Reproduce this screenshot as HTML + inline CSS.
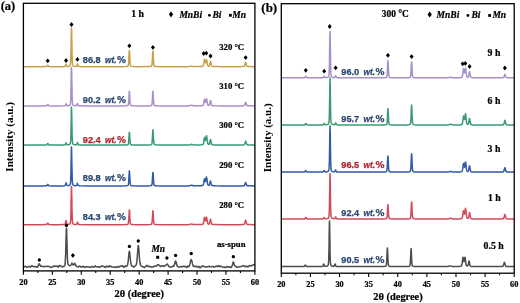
<!DOCTYPE html>
<html><head><meta charset="utf-8"><style>
html,body{margin:0;padding:0;background:#fff;width:520px;height:303px;overflow:hidden}
svg{display:block;filter:blur(0.3px)}
</style></head><body>
<svg width="520" height="303" viewBox="0 0 520 303">
<rect width="520" height="303" fill="#fff"/>
<path d="M23.4,66.7 42.1,66.7 45.9,66.6 46.4,66.6 46.8,66.4 47.1,66.0 47.5,65.3 47.7,65.2 47.8,65.2 48.0,65.4 48.4,66.1 48.6,66.3 48.9,66.5 49.3,66.6 51.1,66.7 56.4,66.7 61.7,66.7 64.0,66.6 64.8,66.5 65.0,66.4 65.1,66.3 65.3,66.1 65.4,65.8 65.9,64.6 66.0,64.5 66.1,64.4 66.2,64.5 66.3,64.6 66.6,65.6 66.8,65.9 67.0,66.3 67.2,66.4 67.8,66.4 68.7,66.4 69.3,66.2 69.7,65.9 69.9,65.7 70.2,65.4 70.3,65.0 70.4,64.6 70.5,64.2 70.5,63.6 70.6,62.7 70.7,61.5 70.8,59.9 70.8,57.7 70.9,54.9 71.0,51.6 71.1,47.7 71.1,43.4 71.2,38.9 71.3,34.6 71.4,31.0 71.4,29.4 71.4,28.7 71.5,28.0 71.5,28.0 71.6,29.1 71.7,31.9 71.7,35.3 71.8,40.0 71.9,44.1 72.0,48.7 72.0,52.2 72.1,55.7 72.2,58.1 72.3,60.3 72.3,61.7 72.4,62.9 72.5,63.7 72.6,64.3 72.6,64.7 72.7,65.0 72.9,65.4 73.1,65.7 73.4,66.0 73.8,66.2 74.3,66.3 75.0,66.4 75.6,66.5 76.0,66.4 76.3,66.3 76.5,66.1 76.7,65.8 76.8,65.4 77.2,64.1 77.3,63.9 77.4,63.8 77.5,63.9 77.6,64.1 77.7,64.3 78.0,65.6 78.2,65.9 78.3,66.2 78.6,66.4 78.8,66.5 79.7,66.6 82.2,66.7 88.4,66.7 121.4,66.7 125.5,66.6 126.5,66.5 127.3,66.4 127.8,66.2 127.9,66.1 128.1,65.9 128.2,65.6 128.3,65.1 128.4,64.8 128.5,64.1 128.7,62.5 128.8,60.1 128.9,57.0 129.1,53.8 129.2,51.2 129.4,50.5 129.4,50.5 129.6,52.1 129.7,55.1 129.8,58.4 130.0,61.2 130.2,63.2 130.3,64.6 130.4,65.1 130.4,65.4 130.6,65.8 130.8,66.0 130.9,66.2 131.2,66.3 132.1,66.5 133.6,66.6 136.2,66.7 147.8,66.6 149.3,66.6 150.3,66.5 150.9,66.4 151.4,66.2 151.5,66.0 151.7,65.8 151.8,65.4 152.0,64.7 152.1,63.4 152.3,61.4 152.4,59.5 152.4,58.7 152.6,55.6 152.7,52.6 152.9,51.1 152.9,51.0 153.0,51.6 153.2,54.1 153.4,58.5 153.5,60.2 153.6,62.6 153.8,64.1 153.9,65.1 154.1,65.7 154.2,65.9 154.4,66.1 154.8,66.4 155.4,66.5 157.1,66.6 160.4,66.7 187.9,66.7 189.0,66.6 189.6,66.6 190.2,66.4 191.1,66.1 191.5,66.0 192.0,66.1 193.2,66.5 194.2,66.6 199.3,66.6 200.9,66.6 202.0,66.5 202.5,66.4 202.8,66.2 203.1,65.9 203.3,65.5 203.4,65.1 203.5,64.6 203.7,63.9 203.9,62.8 204.2,60.5 204.3,59.8 204.4,59.5 204.4,59.4 204.5,59.2 204.5,59.2 204.6,59.2 204.7,59.3 204.7,59.6 204.8,59.8 204.9,60.3 205.1,61.4 205.3,62.2 205.3,62.5 205.4,62.6 205.5,62.8 205.7,62.7 205.8,62.3 205.9,61.8 206.2,60.8 206.3,60.1 206.4,59.9 206.5,59.8 206.5,59.8 206.6,59.8 206.7,60.1 206.8,60.4 206.9,61.0 207.2,62.9 207.3,63.8 207.5,64.5 207.6,65.1 207.8,65.5 208.0,65.8 208.2,66.1 208.5,66.2 208.9,66.2 209.1,66.1 209.3,65.9 209.5,65.5 209.6,65.1 209.8,64.4 209.9,63.7 210.2,62.2 210.3,61.6 210.4,61.3 210.5,61.2 210.6,61.3 210.7,61.7 210.9,62.5 211.1,63.7 211.3,64.5 211.4,65.1 211.5,65.5 211.6,65.8 211.9,66.1 212.1,66.3 212.4,66.4 212.8,66.5 213.9,66.6 215.7,66.6 223.4,66.7 239.6,66.7 242.0,66.6 243.4,66.6 244.0,66.4 244.3,66.2 244.4,66.0 244.6,65.7 244.7,65.3 244.9,64.8 245.3,63.0 245.4,62.8 245.5,62.6 245.6,62.4 245.8,62.5 245.9,62.9 246.4,64.8 246.5,65.2 246.7,65.6 246.8,65.9 247.0,66.2 247.3,66.4 247.9,66.6 248.9,66.6 254.9,66.7" fill="none" stroke="#c6a04a" stroke-width="1.50" stroke-linejoin="round"/>
<path d="M23.4,105.9 42.1,105.9 45.9,105.8 46.4,105.8 46.8,105.6 47.1,105.2 47.5,104.5 47.7,104.4 47.8,104.4 48.0,104.6 48.4,105.3 48.6,105.5 48.9,105.7 49.3,105.8 51.1,105.9 56.4,105.9 64.0,105.8 64.7,105.7 65.1,105.6 65.2,105.4 65.4,105.1 65.8,104.2 65.9,103.9 66.1,103.8 66.1,103.8 66.2,103.9 66.4,104.3 66.7,105.0 66.8,105.3 67.0,105.4 67.2,105.6 67.7,105.7 68.6,105.6 69.3,105.4 69.7,105.1 70.0,104.9 70.2,104.5 70.3,104.3 70.3,104.0 70.4,103.7 70.5,103.2 70.6,102.5 70.6,101.5 70.7,100.1 70.8,98.2 70.9,95.8 70.9,92.8 71.0,89.2 71.1,85.1 71.2,76.3 71.3,72.3 71.4,69.2 71.4,68.8 71.5,67.6 71.5,67.4 71.5,67.7 71.7,72.8 71.8,79.4 71.8,81.4 72.0,88.1 72.0,89.8 72.1,95.0 72.1,96.2 72.3,99.6 72.3,100.3 72.4,102.1 72.4,102.6 72.6,103.6 72.6,103.7 72.7,104.2 72.9,104.6 73.0,104.9 73.4,105.2 73.8,105.4 74.2,105.5 74.8,105.6 75.6,105.7 76.0,105.7 76.3,105.5 76.5,105.4 76.6,105.2 76.8,104.9 77.2,103.8 77.4,103.5 77.4,103.5 77.5,103.6 77.7,103.9 78.0,104.8 78.1,105.1 78.3,105.4 78.4,105.6 78.6,105.7 78.9,105.8 79.6,105.8 87.4,105.9 120.4,105.9 125.3,105.8 126.5,105.7 127.2,105.6 127.7,105.5 128.0,105.3 128.2,105.0 128.3,104.6 128.4,104.2 128.4,103.9 128.6,102.6 128.8,100.7 128.9,98.1 129.1,95.1 129.2,92.5 129.3,91.2 129.4,91.2 129.4,91.2 129.5,92.0 129.7,94.4 129.8,97.4 129.9,100.1 130.1,102.2 130.2,103.6 130.4,104.5 130.6,105.0 130.7,105.2 130.8,105.4 131.3,105.6 132.1,105.7 133.6,105.8 136.1,105.9 147.7,105.9 150.2,105.7 151.0,105.6 151.4,105.4 151.6,105.2 151.7,105.0 151.9,104.6 152.0,103.8 152.2,102.5 152.3,100.5 152.4,99.2 152.5,97.8 152.6,94.9 152.8,92.4 152.9,91.3 153.1,92.3 153.2,94.8 153.4,98.3 153.5,100.4 153.7,102.4 153.8,103.8 154.0,104.6 154.1,105.0 154.3,105.2 154.4,105.4 154.7,105.5 155.5,105.7 157.4,105.8 161.4,105.9 187.9,105.9 189.0,105.8 189.6,105.8 190.2,105.6 191.1,105.3 191.5,105.2 192.0,105.3 193.2,105.7 194.2,105.8 199.2,105.8 200.8,105.8 201.9,105.7 202.5,105.6 202.8,105.4 203.0,105.3 203.1,105.1 203.3,104.9 203.4,104.6 203.5,104.1 203.7,103.5 203.9,102.5 204.2,100.6 204.3,100.0 204.4,99.5 204.5,99.3 204.5,99.2 204.6,99.2 204.7,99.4 204.8,99.6 204.9,100.0 205.1,101.0 205.2,101.7 205.3,101.9 205.4,102.1 205.5,102.2 205.5,102.2 205.7,102.0 205.8,101.7 205.9,101.0 206.1,99.9 206.3,99.2 206.4,98.8 206.5,98.7 206.6,98.8 206.7,99.0 206.7,99.3 206.9,100.1 207.2,101.9 207.3,102.8 207.5,103.7 207.6,104.3 207.8,104.7 207.9,104.9 208.0,105.1 208.2,105.3 208.5,105.4 208.8,105.4 209.1,105.3 209.3,105.1 209.4,104.8 209.6,104.3 209.7,103.8 209.9,103.2 210.2,101.6 210.3,101.0 210.3,100.8 210.4,100.6 210.5,100.5 210.5,100.5 210.6,100.6 210.7,100.9 210.9,101.7 211.2,103.3 211.3,104.0 211.5,104.6 211.6,105.0 211.8,105.3 212.1,105.5 212.4,105.6 212.8,105.7 215.3,105.8 221.4,105.9 239.3,105.9 242.0,105.9 243.4,105.8 244.0,105.7 244.3,105.5 244.4,105.3 244.6,105.1 244.7,104.8 244.9,104.4 245.3,102.9 245.4,102.7 245.5,102.6 245.6,102.4 245.8,102.5 245.9,102.8 246.4,104.3 246.5,104.7 246.7,105.0 246.8,105.3 247.0,105.4 247.3,105.7 247.9,105.8 248.9,105.8 254.9,105.9" fill="none" stroke="#a690c6" stroke-width="1.50" stroke-linejoin="round"/>
<path d="M23.4,145.0 42.1,145.0 45.9,144.9 46.4,144.9 46.8,144.7 47.1,144.3 47.5,143.6 47.7,143.5 47.8,143.5 48.0,143.7 48.4,144.4 48.6,144.6 48.9,144.8 49.3,144.9 51.1,145.0 56.4,145.0 64.0,144.9 64.7,144.8 65.0,144.7 65.2,144.6 65.4,144.2 65.8,143.3 65.9,143.0 66.1,142.9 66.2,143.1 66.7,144.1 66.8,144.4 67.0,144.6 67.3,144.7 67.9,144.8 68.6,144.7 69.2,144.5 69.7,144.3 70.0,144.0 70.1,143.8 70.3,143.4 70.4,142.9 70.4,142.8 70.6,141.5 70.7,139.3 70.7,139.1 70.9,135.0 70.9,134.8 71.0,128.5 71.0,128.1 71.2,119.7 71.3,111.8 71.3,111.4 71.4,108.4 71.5,107.2 71.5,107.1 71.5,107.0 71.6,109.4 71.8,116.8 71.9,125.5 72.0,127.4 72.1,132.9 72.1,134.3 72.2,137.9 72.3,138.8 72.4,140.9 72.4,141.3 72.5,142.5 72.6,142.7 72.7,143.2 72.9,143.7 73.1,144.1 73.4,144.3 73.8,144.5 74.3,144.7 75.6,144.8 76.0,144.8 76.3,144.7 76.6,144.4 76.7,144.1 76.9,143.8 77.2,142.9 77.3,142.7 77.4,142.6 77.5,142.7 77.6,142.9 78.0,143.9 78.1,144.2 78.2,144.4 78.4,144.6 78.6,144.8 78.8,144.8 79.7,144.9 88.4,145.0 120.4,145.0 125.3,144.9 126.5,144.9 127.3,144.8 127.7,144.6 128.0,144.4 128.2,144.2 128.3,143.8 128.4,143.5 128.5,143.1 128.6,141.9 128.8,140.1 128.9,137.7 129.1,135.1 129.2,133.0 129.4,132.3 129.4,132.3 129.5,133.4 129.7,135.6 129.8,138.2 130.0,140.5 130.1,142.1 130.3,143.2 130.4,143.8 130.4,143.9 130.6,144.2 130.7,144.4 130.9,144.6 131.3,144.7 132.1,144.9 135.1,145.0 147.0,145.0 149.2,144.9 150.6,144.8 151.2,144.6 151.4,144.5 151.6,144.3 151.8,144.0 151.9,143.5 152.1,142.6 152.2,141.0 152.4,138.8 152.4,138.0 152.5,135.9 152.7,132.8 152.8,130.4 152.9,129.7 153.0,129.7 153.1,131.2 153.3,134.0 153.4,137.1 153.6,139.8 153.7,141.7 153.9,143.0 154.0,143.7 154.2,144.1 154.3,144.4 154.5,144.5 154.8,144.6 155.4,144.8 157.0,144.9 160.4,145.0 187.9,145.0 189.0,144.9 189.6,144.9 190.2,144.7 191.1,144.4 191.5,144.3 192.0,144.4 192.9,144.7 193.3,144.8 194.4,144.9 199.6,144.9 201.1,144.8 202.1,144.7 202.6,144.6 202.9,144.4 203.2,144.0 203.3,143.7 203.4,143.5 203.5,143.2 203.6,142.6 203.8,141.8 203.9,140.8 204.2,138.7 204.3,138.2 204.4,137.7 204.4,137.6 204.5,137.4 204.6,137.4 204.7,137.5 204.7,137.7 204.9,138.4 205.1,139.6 205.2,139.9 205.3,140.2 205.3,140.4 205.4,140.5 205.5,140.5 205.6,140.4 205.6,140.2 205.7,140.0 205.8,139.6 205.9,138.6 206.2,137.0 206.2,136.5 206.3,136.2 206.4,135.8 206.5,135.7 206.5,135.7 206.5,135.7 206.6,135.8 206.7,136.2 206.8,136.5 206.8,137.1 206.9,137.6 207.2,140.2 207.4,141.4 207.5,142.3 207.7,143.0 207.8,143.6 208.0,143.9 208.0,144.0 208.3,144.3 208.6,144.4 208.9,144.4 209.1,144.3 209.3,144.1 209.5,143.7 209.6,143.2 209.8,142.6 209.9,142.0 210.1,140.6 210.3,139.9 210.4,139.6 210.5,139.5 210.6,139.6 210.7,139.7 210.7,140.0 210.8,140.4 211.1,142.1 211.3,142.8 211.4,143.4 211.6,143.9 211.6,144.1 211.9,144.4 212.1,144.6 212.4,144.7 212.8,144.8 213.9,144.9 215.5,144.9 222.4,145.0 239.4,145.0 242.1,144.9 243.4,144.9 243.8,144.8 244.1,144.7 244.4,144.5 244.5,144.2 244.7,143.9 244.8,143.5 245.0,143.0 245.3,142.0 245.4,141.5 245.6,141.2 245.6,141.2 245.7,141.2 245.9,141.5 246.0,141.9 246.3,143.0 246.5,143.5 246.6,143.9 246.8,144.2 246.9,144.5 247.1,144.6 247.4,144.8 248.0,144.9 249.2,144.9 254.9,145.0" fill="none" stroke="#3a9a72" stroke-width="1.50" stroke-linejoin="round"/>
<path d="M23.4,185.9 42.1,185.9 45.9,185.8 46.4,185.8 46.8,185.6 47.1,185.2 47.5,184.5 47.7,184.4 47.8,184.4 48.0,184.6 48.4,185.3 48.6,185.5 48.9,185.7 49.3,185.8 51.3,185.9 57.4,185.9 61.9,185.9 64.0,185.8 64.7,185.7 65.0,185.5 65.1,185.3 65.3,185.0 65.4,184.8 65.6,184.1 65.8,183.4 65.9,183.0 66.1,182.8 66.2,183.0 66.3,183.4 66.6,184.5 66.8,185.0 67.0,185.3 67.1,185.4 67.2,185.5 67.7,185.6 68.6,185.6 69.2,185.4 69.7,185.1 69.9,184.9 70.1,184.6 70.3,184.3 70.4,183.7 70.4,183.6 70.5,182.6 70.6,182.3 70.7,180.4 70.7,179.8 70.8,176.3 70.9,175.4 71.0,169.9 71.0,168.6 71.1,161.5 71.2,160.0 71.3,152.8 71.3,151.5 71.4,148.4 71.4,147.4 71.5,147.1 71.5,147.0 71.6,148.6 71.6,149.5 71.7,155.6 71.9,166.1 72.1,173.6 72.2,178.7 72.4,181.7 72.4,182.1 72.5,183.3 72.7,184.1 72.8,184.5 73.0,184.8 73.1,185.0 73.4,185.2 73.9,185.4 74.3,185.6 75.1,185.7 75.8,185.7 76.1,185.6 76.4,185.5 76.6,185.3 76.7,185.0 76.9,184.6 77.2,183.7 77.3,183.4 77.4,183.3 77.5,183.4 77.6,183.7 77.9,184.6 78.1,185.0 78.2,185.3 78.4,185.5 78.5,185.6 78.8,185.7 79.7,185.8 88.4,185.9 121.4,185.9 125.5,185.8 126.6,185.7 127.3,185.6 127.8,185.4 128.0,185.3 128.1,185.1 128.2,184.8 128.4,184.2 128.6,183.1 128.7,181.3 128.8,178.9 129.2,173.0 129.3,171.1 129.4,170.9 129.4,170.9 129.4,171.2 129.6,173.2 129.9,179.1 130.1,181.5 130.2,183.2 130.3,184.2 130.4,184.5 130.5,184.8 130.7,185.1 130.8,185.3 131.2,185.6 132.2,185.7 133.7,185.8 136.2,185.9 147.7,185.9 150.3,185.7 151.0,185.6 151.4,185.4 151.6,185.3 151.8,185.0 151.9,184.6 152.1,183.7 152.2,182.4 152.4,180.4 152.4,179.7 152.5,177.9 152.7,175.1 152.8,173.0 152.9,172.4 153.0,172.4 153.1,173.7 153.3,176.2 153.4,179.0 153.6,181.3 153.7,183.0 153.9,184.1 154.0,184.8 154.2,185.1 154.3,185.3 154.5,185.4 154.8,185.6 155.4,185.7 157.0,185.8 160.4,185.9 187.9,185.9 189.0,185.8 189.6,185.8 190.2,185.6 191.1,185.3 191.5,185.2 192.0,185.3 193.2,185.7 194.2,185.8 199.3,185.8 201.0,185.8 202.0,185.6 202.6,185.5 202.9,185.3 203.1,185.1 203.2,184.9 203.3,184.6 203.5,184.0 203.7,183.2 203.8,182.4 204.1,180.4 204.3,179.5 204.4,179.0 204.5,178.7 204.6,178.7 204.7,178.9 204.7,179.0 204.9,179.5 205.1,180.9 205.3,181.4 205.4,181.6 205.4,181.6 205.5,181.6 205.6,181.5 205.6,181.4 205.7,181.0 205.8,180.8 205.9,180.0 206.2,178.0 206.3,177.3 206.4,177.1 206.5,177.0 206.5,177.0 206.6,177.2 206.7,177.4 206.8,178.0 206.9,179.2 207.2,181.6 207.4,182.7 207.5,183.5 207.7,184.2 207.8,184.6 208.0,185.0 208.3,185.2 208.6,185.3 208.9,185.3 209.1,185.3 209.2,185.1 209.3,185.0 209.5,184.7 209.6,184.3 209.8,183.7 210.1,182.0 210.3,181.4 210.4,181.1 210.5,181.0 210.6,181.0 210.7,181.4 210.8,181.9 211.1,183.4 211.3,184.1 211.4,184.6 211.6,185.0 211.8,185.3 212.0,185.5 212.3,185.6 212.8,185.7 215.5,185.8 222.4,185.9 239.4,185.9 242.0,185.9 243.4,185.8 244.0,185.7 244.3,185.5 244.4,185.3 244.6,185.1 244.7,184.8 244.9,184.4 245.3,183.0 245.4,182.8 245.5,182.6 245.6,182.5 245.8,182.6 245.9,182.9 246.4,184.4 246.5,184.7 246.7,185.1 246.8,185.3 247.0,185.5 247.3,185.7 247.9,185.8 248.9,185.8 254.9,185.9" fill="none" stroke="#3059a8" stroke-width="1.50" stroke-linejoin="round"/>
<path d="M23.4,224.7 42.1,224.7 45.9,224.6 46.4,224.6 46.8,224.4 47.1,224.0 47.5,223.3 47.7,223.2 47.8,223.2 48.0,223.4 48.4,224.1 48.6,224.3 48.9,224.5 49.4,224.6 51.9,224.7 59.4,224.7 62.6,224.6 64.1,224.6 64.5,224.5 64.8,224.4 65.0,224.2 65.1,224.0 65.3,223.6 65.4,223.1 65.6,222.4 65.7,221.6 65.9,221.0 66.0,220.6 66.1,220.6 66.2,220.8 66.3,221.4 66.6,222.9 66.8,223.5 66.9,223.9 67.1,224.1 67.2,224.3 67.4,224.3 67.7,224.4 68.6,224.3 69.3,224.1 69.8,223.9 70.1,223.5 70.2,223.2 70.4,222.7 70.4,222.6 70.5,221.5 70.7,219.6 70.7,219.4 70.8,215.8 70.8,215.5 71.0,209.8 71.0,209.4 71.1,201.7 71.3,193.1 71.3,192.6 71.4,187.9 71.4,187.2 71.4,187.0 71.5,186.5 71.6,187.6 71.6,187.8 71.7,194.0 71.8,196.5 71.9,202.7 71.9,205.2 72.0,211.1 72.1,212.6 72.2,216.7 72.2,217.6 72.3,220.1 72.4,220.6 72.4,221.0 72.5,221.9 72.5,222.1 72.6,222.8 72.7,222.9 72.8,223.4 72.9,223.6 73.1,223.8 73.4,224.0 73.8,224.2 74.3,224.4 75.0,224.5 75.8,224.5 76.1,224.4 76.4,224.3 76.5,224.1 76.7,223.8 76.8,223.5 77.2,222.5 77.3,222.2 77.4,222.1 77.5,222.2 77.6,222.4 78.0,223.7 78.2,224.0 78.4,224.3 78.5,224.4 78.8,224.5 79.7,224.6 87.4,224.7 120.4,224.7 125.3,224.6 126.5,224.5 127.2,224.4 127.7,224.3 128.0,224.1 128.2,223.8 128.3,223.4 128.4,223.0 128.4,222.7 128.6,221.4 128.8,219.5 128.9,216.9 129.1,213.9 129.2,211.3 129.3,210.0 129.4,210.0 129.4,210.0 129.5,210.8 129.7,213.2 129.8,216.2 129.9,218.9 130.1,221.0 130.2,222.4 130.4,223.3 130.6,223.8 130.7,224.0 130.8,224.2 131.3,224.4 132.1,224.5 133.4,224.6 135.9,224.7 147.6,224.7 150.2,224.5 150.9,224.4 151.4,224.2 151.5,224.1 151.7,223.9 151.8,223.6 152.0,222.9 152.1,221.8 152.3,220.0 152.4,218.3 152.4,217.6 152.6,214.8 152.7,212.3 152.9,210.9 152.9,210.8 153.0,211.4 153.2,213.5 153.4,217.5 153.5,219.0 153.6,221.0 153.8,222.4 153.9,223.3 154.1,223.8 154.2,224.0 154.4,224.2 154.8,224.4 155.4,224.5 157.2,224.6 161.4,224.7 187.9,224.7 189.0,224.6 189.6,224.6 190.2,224.4 191.1,224.1 191.5,224.0 192.0,224.1 193.2,224.5 194.2,224.6 199.2,224.6 200.8,224.6 201.9,224.5 202.4,224.4 202.8,224.2 202.9,224.1 203.1,223.9 203.2,223.7 203.3,223.4 203.5,222.9 203.6,222.2 203.8,221.5 203.9,220.9 204.2,218.9 204.2,218.4 204.3,218.0 204.4,217.6 204.5,217.4 204.5,217.3 204.6,217.3 204.7,217.4 204.8,217.7 204.9,218.4 205.1,219.6 205.3,220.2 205.4,220.6 205.5,220.7 205.6,220.7 205.7,220.6 205.7,220.4 205.8,220.1 206.0,219.4 206.2,218.3 206.3,217.9 206.3,217.5 206.4,217.4 206.5,217.3 206.6,217.3 206.6,217.4 206.7,217.7 206.8,218.0 206.9,218.9 207.2,220.6 207.3,221.5 207.5,222.3 207.6,222.9 207.8,223.4 207.8,223.6 208.0,223.8 208.2,224.0 208.5,224.2 208.9,224.2 209.1,224.0 209.3,223.8 209.5,223.5 209.6,223.0 209.8,222.4 209.9,221.7 210.2,220.4 210.3,219.7 210.4,219.4 210.5,219.3 210.5,219.3 210.6,219.4 210.7,219.6 210.8,219.9 210.9,220.7 211.1,221.9 211.3,222.6 211.4,223.2 211.6,223.7 211.8,224.1 212.0,224.3 212.3,224.4 212.8,224.5 213.8,224.6 215.6,224.6 223.4,224.7 239.6,224.7 242.1,224.6 243.4,224.6 243.8,224.5 244.1,224.3 244.2,224.2 244.4,224.0 244.5,223.7 244.7,223.3 244.8,222.8 245.3,221.0 245.4,220.6 245.4,220.5 245.6,220.2 245.6,220.2 245.7,220.3 245.9,220.6 246.0,221.2 246.4,222.7 246.5,223.0 246.6,223.5 246.8,223.8 246.9,224.1 247.2,224.4 247.5,224.5 247.8,224.6 248.9,224.6 254.9,224.7" fill="none" stroke="#d04a5a" stroke-width="1.50" stroke-linejoin="round"/>
<path d="M23.4,266.7 24.4,266.7 24.9,266.3 25.4,266.3 26.9,267.3 27.4,267.1 27.9,267.1 28.4,266.9 28.9,266.4 29.9,266.6 30.4,267.1 30.9,266.5 31.4,265.9 31.9,265.6 32.4,265.9 32.9,266.4 33.9,266.9 34.4,266.6 34.9,266.7 35.9,266.6 36.4,267.0 36.9,267.0 37.4,267.3 37.7,266.9 38.1,266.0 38.3,265.7 38.4,265.3 38.9,264.0 39.0,263.8 39.2,263.7 39.3,263.7 39.4,263.7 39.5,263.8 39.6,264.1 40.1,265.2 40.4,265.9 40.7,266.2 40.8,266.4 41.0,266.4 41.4,266.2 41.9,266.1 42.4,266.6 42.9,266.6 43.4,266.8 44.4,266.5 44.9,266.4 45.4,266.6 46.4,266.4 46.9,266.1 47.4,266.4 47.9,266.6 48.4,266.6 48.9,266.4 49.4,266.5 49.9,266.7 50.4,267.3 50.9,267.4 51.4,267.4 51.9,267.1 52.4,266.5 52.9,266.5 53.4,266.3 53.9,266.5 54.4,266.1 54.9,266.0 55.4,266.0 55.9,266.6 57.4,265.8 57.9,266.7 58.4,267.2 58.9,266.6 59.4,265.6 59.9,265.5 60.9,266.1 61.4,266.3 61.9,266.7 62.4,266.9 63.4,266.3 63.9,266.5 64.2,266.3 64.4,266.2 64.6,265.8 64.8,265.5 64.9,265.0 65.0,264.6 65.1,264.1 65.1,263.4 65.2,262.7 65.3,261.7 65.3,260.9 65.4,259.8 65.4,259.1 65.5,257.4 65.6,255.4 65.7,253.2 65.7,250.6 65.8,247.8 66.0,238.8 66.1,235.9 66.2,233.2 66.2,231.5 66.3,230.9 66.3,229.3 66.4,228.5 66.4,228.4 66.4,228.3 66.5,228.1 66.5,228.2 66.5,228.6 66.6,228.9 66.6,230.4 66.7,231.9 66.7,232.5 66.8,235.1 66.8,237.2 66.9,239.7 67.0,244.2 67.1,247.3 67.1,249.3 67.2,250.1 67.2,252.7 67.3,255.1 67.4,257.2 67.4,257.6 67.5,258.8 67.5,260.1 67.6,260.9 67.7,262.1 67.8,262.7 67.8,263.2 67.9,263.5 68.0,264.0 68.0,264.1 68.2,264.5 68.6,265.0 68.9,265.3 69.3,265.5 69.9,265.7 70.1,265.7 70.3,265.6 70.5,265.5 70.7,265.3 71.1,264.8 71.3,264.3 71.4,264.2 71.6,263.7 71.7,263.3 71.9,263.1 71.9,263.1 72.0,263.1 72.2,263.3 72.4,263.8 73.0,264.8 73.2,264.9 73.3,265.0 73.5,264.9 73.7,264.8 74.2,263.8 74.5,263.3 74.6,263.2 74.8,263.2 74.9,263.3 75.0,263.6 75.6,264.9 75.8,265.4 76.1,266.0 76.4,266.4 76.7,266.5 77.4,266.5 77.9,266.9 78.4,267.1 78.9,266.5 79.4,266.1 79.9,266.2 80.4,266.5 80.9,266.9 81.4,266.7 81.9,267.1 82.4,266.4 82.9,266.5 83.4,266.3 83.9,266.9 84.4,267.3 84.9,267.2 85.4,267.0 85.9,266.8 86.4,266.9 86.9,266.8 87.9,266.8 88.4,266.9 88.9,267.0 89.4,267.0 89.9,267.5 90.4,267.4 90.9,267.2 91.4,266.6 91.9,266.5 92.4,266.8 92.9,266.8 93.4,266.9 93.9,267.2 94.4,266.6 95.4,265.8 95.9,266.6 96.4,266.9 96.9,266.7 97.4,266.8 98.4,266.8 98.9,267.2 99.9,267.2 100.4,266.6 100.9,266.5 101.4,266.6 101.9,265.9 102.4,265.9 102.9,266.1 103.4,266.5 103.9,266.6 104.4,266.6 104.9,267.1 105.4,267.5 105.9,266.8 106.4,266.5 106.9,266.1 107.4,266.7 107.9,267.0 108.4,266.4 108.9,266.5 109.4,265.9 109.9,266.8 110.4,266.1 110.9,266.5 111.4,266.6 111.9,267.0 112.4,267.0 112.9,266.9 113.4,266.9 113.9,266.9 114.9,267.3 115.4,267.2 115.9,267.5 116.4,267.0 116.9,267.3 117.4,266.5 117.9,266.8 118.4,266.8 119.4,267.0 119.9,266.4 120.4,266.0 120.9,266.0 121.9,266.2 122.4,265.7 122.9,266.2 123.4,266.7 123.9,267.4 124.4,266.8 124.9,266.5 125.4,265.8 125.9,266.1 126.4,266.4 126.7,266.2 127.0,266.0 127.2,265.7 127.4,265.4 127.5,264.9 127.7,264.3 127.8,263.4 128.1,262.1 128.2,261.0 128.4,259.3 128.7,255.3 128.9,253.6 129.0,252.5 129.1,252.1 129.2,251.7 129.3,251.5 129.4,251.4 129.4,251.4 129.5,251.6 129.6,251.8 129.6,252.2 129.7,252.7 129.8,253.3 129.9,254.2 129.9,254.7 130.2,257.8 130.4,259.4 130.5,260.6 130.7,261.7 130.8,262.6 131.0,263.4 131.1,264.1 131.3,264.6 131.6,265.5 131.7,265.9 131.9,266.2 132.1,266.2 132.4,266.2 132.9,266.5 133.4,266.5 133.9,267.1 134.4,266.7 134.9,266.1 135.6,265.7 135.8,265.4 136.0,265.1 136.2,264.8 136.3,264.4 136.5,263.8 136.6,263.1 136.8,262.1 136.9,260.9 137.0,260.0 137.1,258.3 137.3,256.5 137.4,255.0 137.7,251.3 137.7,250.1 137.8,249.2 137.9,248.1 138.0,247.5 138.0,246.7 138.1,246.2 138.2,245.8 138.3,245.6 138.3,245.6 138.4,245.7 138.5,246.1 138.6,246.5 138.6,247.2 138.7,247.8 138.8,248.8 138.9,250.1 139.2,255.1 139.4,257.4 139.5,259.0 139.7,260.5 139.8,261.8 140.0,262.8 140.1,263.2 140.2,264.0 140.3,264.4 140.4,264.8 140.5,265.0 140.7,265.3 141.1,265.8 141.5,266.1 141.9,266.4 142.4,266.8 142.9,266.7 143.4,267.0 143.9,267.1 144.4,267.5 144.9,267.1 145.4,267.0 145.9,266.1 146.4,266.0 146.9,265.3 147.4,266.1 147.9,266.1 148.4,266.6 148.9,266.2 149.4,266.5 149.9,266.4 150.4,266.5 150.9,267.0 151.4,267.1 151.9,267.2 152.4,267.0 152.9,266.9 153.9,266.1 154.4,266.4 155.4,266.2 155.9,266.0 156.2,266.1 156.4,266.1 156.9,265.6 157.4,264.9 157.5,264.8 157.7,264.7 158.0,264.7 158.4,265.0 158.9,265.1 159.2,265.3 159.4,265.4 159.9,266.1 160.4,266.5 160.9,266.4 161.4,266.0 161.9,265.8 162.4,266.0 162.9,265.9 163.4,266.4 163.9,265.8 164.4,266.1 164.9,265.8 165.2,265.7 165.4,265.6 165.9,265.2 166.7,264.3 167.1,264.1 167.2,264.1 167.4,264.1 167.9,264.9 168.4,265.8 168.9,266.5 169.4,266.8 169.9,267.1 170.4,267.0 170.9,267.1 171.9,267.1 172.4,266.2 173.6,266.2 173.9,266.1 174.2,265.4 174.4,264.6 174.8,263.6 174.9,263.1 175.2,261.8 175.3,261.3 175.4,261.2 175.5,261.1 175.7,261.1 175.8,261.3 176.0,261.8 176.1,262.3 176.7,264.5 176.8,265.1 177.0,265.5 177.2,265.9 177.3,266.2 177.4,266.4 177.6,266.5 177.9,266.7 178.4,267.0 178.9,267.1 179.9,266.7 180.9,266.4 181.4,266.9 181.9,266.9 182.4,266.8 182.9,266.3 183.4,266.2 184.4,266.8 184.9,266.6 185.4,266.2 185.9,266.8 186.4,267.3 186.9,267.6 187.4,266.3 188.4,265.9 188.7,266.4 188.9,266.6 189.1,266.3 189.3,266.0 189.4,265.7 189.6,265.3 189.7,264.9 189.9,264.3 190.2,263.1 190.4,262.1 190.6,260.9 190.8,260.2 190.9,259.8 191.1,259.5 191.2,259.5 191.4,259.7 191.5,260.0 191.7,260.4 191.9,261.1 192.4,263.4 192.6,264.1 192.7,264.6 193.0,265.5 193.2,265.9 193.4,266.3 193.6,266.5 193.9,266.6 194.9,266.0 195.4,266.5 195.9,266.6 196.4,266.3 196.9,266.8 197.4,267.2 197.9,267.1 198.4,266.3 198.9,266.4 199.4,267.0 199.9,267.8 200.4,267.6 200.9,267.1 201.4,266.7 201.9,266.0 202.4,266.0 202.9,265.9 203.4,266.6 204.9,266.6 205.4,266.9 205.9,267.0 206.4,267.0 206.9,266.8 207.4,266.8 207.9,266.8 208.4,266.7 208.9,266.3 209.4,266.3 210.4,266.7 210.9,266.7 211.4,266.8 211.9,266.7 212.4,266.4 212.9,266.4 213.4,266.7 213.9,267.2 214.9,266.9 215.4,266.5 215.9,266.1 216.4,266.0 216.9,266.0 217.4,266.7 217.9,266.4 218.9,265.5 219.4,266.2 219.9,266.7 220.4,266.6 220.9,266.1 221.4,266.3 221.9,266.7 222.9,267.2 223.4,267.3 223.9,267.2 224.4,267.0 225.4,267.5 225.9,267.6 226.4,266.9 226.9,266.6 227.4,266.5 227.9,266.7 228.4,267.0 228.9,267.0 229.4,267.3 229.9,266.9 230.4,267.4 230.9,267.4 231.4,267.2 231.7,266.5 231.9,266.0 232.0,265.8 232.2,265.5 232.4,265.0 232.9,263.0 233.1,262.4 233.2,262.1 233.4,262.1 233.5,262.1 233.7,262.4 233.8,262.8 233.9,263.0 234.1,264.0 234.4,265.1 234.6,265.4 234.7,265.6 235.0,265.9 235.9,266.3 236.4,267.0 236.9,267.2 238.4,267.0 238.9,267.0 239.9,266.6 240.4,266.8 240.9,266.5 241.4,266.4 241.9,266.2 242.4,266.1 242.9,266.1 243.4,265.6 244.4,266.0 244.9,266.6 245.4,266.7 245.9,266.5 246.4,266.0 246.9,266.4 247.4,266.5 247.9,267.1 248.4,266.4 248.9,266.2 249.4,265.4 249.9,265.8 250.4,266.0 250.9,265.9 251.4,265.7 251.9,265.5 252.4,265.5 253.4,264.5 253.9,264.7 254.4,264.8 254.9,265.0" fill="none" stroke="#4c4c4c" stroke-width="1.50" stroke-linejoin="round"/>
<path d="M281.3,77.8 300.4,77.8 304.0,77.8 304.5,77.7 304.8,77.6 305.1,77.2 305.5,76.5 305.7,76.4 305.8,76.3 305.8,76.4 306.0,76.5 306.4,77.2 306.7,77.6 306.9,77.7 307.2,77.8 308.1,77.8 318.2,77.8 322.6,77.7 323.1,77.7 323.4,77.5 323.6,77.1 324.0,76.5 324.1,76.3 324.2,76.3 324.3,76.3 324.4,76.4 324.8,77.2 325.0,77.4 325.2,77.5 325.5,77.6 326.3,77.6 327.2,77.4 327.8,77.2 328.3,76.9 328.5,76.7 328.6,76.4 328.8,76.0 328.9,75.5 328.9,75.3 329.0,74.4 329.1,74.0 329.2,72.1 329.2,71.5 329.3,69.4 329.3,67.9 329.4,66.8 329.5,61.1 329.5,59.4 329.6,51.6 329.8,41.1 329.9,33.1 330.0,31.5 330.1,31.5 330.1,32.1 330.2,36.4 330.2,38.9 330.3,42.7 330.4,49.2 330.5,56.5 330.5,59.1 330.6,64.8 330.7,66.6 330.8,70.3 330.8,71.4 330.9,73.4 331.0,74.0 331.1,75.0 331.1,75.3 331.2,75.8 331.3,76.0 331.4,76.4 331.7,76.8 332.0,77.1 332.3,77.3 332.8,77.4 333.4,77.5 333.9,77.6 334.3,77.6 334.6,77.5 334.7,77.3 334.9,77.1 335.0,76.9 335.4,75.9 335.6,75.7 335.8,75.9 335.9,76.1 336.2,76.9 336.4,77.2 336.5,77.4 336.6,77.5 336.8,77.6 337.1,77.7 338.1,77.8 348.3,77.8 380.1,77.8 384.3,77.7 385.3,77.6 385.9,77.5 386.4,77.3 386.5,77.1 386.7,76.9 386.8,76.4 387.0,75.7 387.1,74.3 387.3,72.2 387.3,71.5 387.4,69.2 387.6,65.8 387.7,62.5 387.9,60.6 387.9,60.4 388.0,61.0 388.2,63.5 388.3,67.0 388.5,70.3 388.6,73.0 388.8,74.8 388.9,76.0 389.1,76.6 389.2,77.0 389.4,77.2 389.5,77.3 389.8,77.5 390.7,77.7 392.1,77.8 394.6,77.8 406.1,77.8 407.8,77.8 408.8,77.7 409.6,77.5 410.0,77.4 410.2,77.2 410.3,77.1 410.5,76.7 410.6,76.1 410.8,75.1 410.9,73.4 411.1,71.0 411.2,67.9 411.3,65.9 411.4,64.7 411.5,62.4 411.6,61.9 411.7,62.1 411.8,63.8 412.0,66.8 412.1,70.0 412.3,72.7 412.3,73.3 412.4,74.6 412.6,75.9 412.7,76.6 412.9,77.0 413.0,77.2 413.2,77.3 413.5,77.5 414.2,77.7 415.9,77.8 419.3,77.8 446.8,77.8 447.8,77.8 448.6,77.7 449.0,77.6 450.1,77.2 450.4,77.1 450.8,77.2 452.2,77.7 453.2,77.8 458.3,77.8 459.9,77.7 460.9,77.6 461.5,77.4 461.8,77.2 462.0,77.0 462.1,76.8 462.3,76.3 462.4,75.8 462.6,75.1 462.7,74.2 462.9,73.0 463.2,70.2 463.3,69.4 463.3,69.1 463.5,68.6 463.5,68.5 463.5,68.5 463.6,68.5 463.6,68.5 463.8,69.0 463.9,69.8 464.1,71.1 464.2,72.0 464.3,72.3 464.4,72.6 464.5,72.8 464.5,72.8 464.7,72.7 464.7,72.6 464.8,72.1 465.0,71.2 465.1,70.0 465.3,69.2 465.3,69.0 465.4,68.6 465.4,68.5 465.5,68.4 465.6,68.5 465.7,69.0 465.7,69.1 465.9,70.2 466.2,72.8 466.3,74.0 466.5,74.9 466.6,75.7 466.8,76.3 466.9,76.6 467.1,76.8 467.3,77.1 467.5,77.2 467.8,77.2 468.1,77.1 468.3,76.9 468.4,76.6 468.6,76.1 468.7,75.5 468.9,74.7 469.2,72.9 469.3,72.3 469.3,72.2 469.5,71.8 469.5,71.7 469.6,71.8 469.8,72.2 469.9,73.0 470.2,74.9 470.3,75.4 470.4,75.8 470.5,76.3 470.7,76.8 470.8,77.1 471.1,77.4 471.4,77.5 471.9,77.6 474.3,77.8 480.3,77.8 498.5,77.8 501.3,77.8 502.7,77.7 503.3,77.6 503.6,77.3 503.7,77.1 503.9,76.8 504.0,76.5 504.2,76.0 504.5,75.0 504.6,74.6 504.8,74.3 504.9,74.2 504.9,74.3 505.1,74.5 505.2,74.9 505.7,76.4 505.8,76.8 506.0,77.1 506.1,77.3 506.3,77.5 506.6,77.6 507.2,77.7 508.3,77.8 514.2,77.8" fill="none" stroke="#a690c6" stroke-width="1.50" stroke-linejoin="round"/>
<path d="M281.3,125.0 300.4,125.0 304.0,124.9 304.5,124.9 304.8,124.7 305.1,124.4 305.5,123.7 305.7,123.5 305.8,123.5 305.8,123.5 306.0,123.7 306.4,124.4 306.7,124.7 306.9,124.8 307.2,124.9 307.9,125.0 318.1,125.0 322.6,124.9 323.1,124.8 323.4,124.6 323.5,124.4 323.7,124.2 324.0,123.6 324.1,123.4 324.2,123.4 324.3,123.4 324.4,123.6 324.7,124.1 325.0,124.5 325.2,124.7 325.5,124.8 326.2,124.7 327.1,124.6 327.7,124.4 328.2,124.1 328.5,123.8 328.6,123.5 328.8,123.1 328.9,122.5 328.9,122.4 329.1,121.1 329.1,121.0 329.2,118.5 329.2,118.2 329.3,116.4 329.4,113.8 329.4,113.3 329.5,106.3 329.5,105.6 329.7,96.3 329.8,85.0 330.0,78.5 330.0,78.0 330.1,78.0 330.1,79.9 330.2,83.0 330.3,88.2 330.3,89.3 330.4,98.9 330.5,103.4 330.6,108.4 330.6,111.8 330.7,115.2 330.8,117.3 330.9,119.3 330.9,120.5 331.0,121.5 331.1,122.1 331.2,122.7 331.2,123.0 331.4,123.4 331.6,123.8 331.9,124.2 332.3,124.4 332.8,124.6 333.9,124.7 334.3,124.7 334.6,124.6 334.8,124.4 334.9,124.2 335.1,123.9 335.4,123.1 335.5,122.9 335.6,122.9 335.8,123.0 335.8,123.1 336.3,124.2 336.4,124.5 336.6,124.6 336.8,124.8 337.0,124.8 338.1,124.9 347.3,125.0 379.3,125.0 384.0,124.9 385.1,124.8 385.8,124.7 386.3,124.5 386.6,124.3 386.7,124.0 386.9,123.5 387.0,122.6 387.2,121.1 387.3,119.1 387.5,115.9 387.6,112.7 387.8,109.9 387.9,108.8 388.1,109.9 388.2,112.7 388.4,116.0 388.5,118.9 388.7,121.1 388.8,122.6 389.0,123.5 389.1,124.0 389.3,124.3 389.4,124.4 389.9,124.7 390.6,124.8 391.8,124.9 393.8,125.0 405.9,124.9 408.1,124.9 409.3,124.7 409.9,124.4 410.1,124.3 410.3,124.0 410.4,123.8 410.5,123.3 410.7,122.3 410.8,120.7 411.0,118.1 411.1,114.7 411.3,110.0 411.4,107.0 411.6,105.1 411.6,105.0 411.7,105.9 411.9,109.0 412.0,113.0 412.2,116.7 412.3,119.3 412.3,119.7 412.5,121.7 412.6,123.0 412.8,123.7 412.9,124.0 413.1,124.3 413.3,124.4 413.5,124.6 414.1,124.7 415.8,124.9 419.4,125.0 446.6,125.0 447.7,124.9 448.4,124.9 449.0,124.7 450.1,124.3 450.4,124.3 450.8,124.3 452.2,124.8 453.3,124.9 458.5,124.9 460.1,124.8 461.1,124.7 461.6,124.5 461.9,124.3 462.0,124.1 462.1,123.9 462.3,123.6 462.3,123.3 462.5,122.7 462.6,121.9 462.7,121.3 462.9,120.4 463.2,118.0 463.2,117.3 463.3,116.9 463.4,116.4 463.5,116.1 463.5,116.0 463.6,116.0 463.7,116.2 463.8,116.5 463.8,116.9 464.1,118.7 464.2,119.1 464.3,119.4 464.4,119.6 464.4,119.6 464.5,119.6 464.6,119.5 464.7,119.1 464.7,118.9 464.8,118.3 465.0,117.4 465.2,115.3 465.3,114.5 465.3,114.3 465.4,114.0 465.5,113.8 465.5,113.8 465.6,113.9 465.6,114.1 465.7,114.4 465.8,115.0 465.9,115.9 466.2,119.0 466.3,120.4 466.5,121.6 466.5,121.9 466.6,122.5 466.8,123.0 466.8,123.3 466.9,123.6 467.1,123.8 467.3,124.1 467.6,124.3 467.9,124.3 468.1,124.2 468.3,124.0 468.5,123.5 468.6,123.0 468.8,122.3 468.9,121.5 469.2,119.9 469.3,119.3 469.4,118.9 469.5,118.7 469.5,118.6 469.6,118.8 469.7,118.9 469.8,119.2 469.9,120.0 470.1,121.5 470.3,122.5 470.4,122.9 470.5,123.4 470.7,123.9 470.8,124.2 471.1,124.5 471.4,124.7 471.9,124.8 472.9,124.9 474.7,124.9 482.3,125.0 498.8,125.0 501.3,124.9 502.7,124.8 503.0,124.8 503.3,124.6 503.6,124.4 503.7,124.1 503.9,123.8 504.0,123.3 504.2,122.7 504.5,121.4 504.6,120.8 504.8,120.5 504.9,120.4 504.9,120.4 505.1,120.7 505.2,121.2 505.7,123.1 505.8,123.6 506.0,124.0 506.1,124.3 506.3,124.5 506.6,124.7 507.2,124.9 508.3,124.9 514.2,125.0" fill="none" stroke="#3a9a72" stroke-width="1.50" stroke-linejoin="round"/>
<path d="M281.3,172.1 300.4,172.1 304.0,172.0 304.5,172.0 304.8,171.8 305.1,171.5 305.5,170.8 305.7,170.6 305.8,170.6 305.8,170.6 306.0,170.8 306.4,171.5 306.7,171.8 306.9,171.9 307.2,172.0 307.9,172.1 318.1,172.1 322.6,172.0 323.1,171.9 323.4,171.7 323.5,171.5 323.7,171.3 324.0,170.7 324.1,170.5 324.2,170.5 324.3,170.5 324.4,170.7 324.7,171.2 325.0,171.6 325.2,171.8 325.5,171.9 326.2,171.9 327.1,171.7 327.7,171.5 328.2,171.2 328.5,170.9 328.6,170.6 328.8,170.2 328.9,169.6 329.1,168.3 329.1,168.2 329.2,165.7 329.2,165.5 329.3,163.7 329.4,161.1 329.4,160.6 329.5,153.8 329.5,153.0 329.7,143.9 329.8,132.9 330.0,126.5 330.0,126.0 330.1,126.0 330.1,127.9 330.2,130.9 330.3,136.0 330.3,137.1 330.4,146.5 330.5,150.9 330.6,155.9 330.6,159.1 330.7,162.5 330.8,164.6 330.9,166.5 330.9,167.7 331.0,168.7 331.1,169.3 331.2,169.8 331.2,170.1 331.4,170.6 331.6,171.0 331.9,171.3 332.3,171.5 332.8,171.7 333.9,171.8 334.3,171.8 334.6,171.7 334.8,171.5 334.9,171.3 335.1,171.0 335.4,170.2 335.5,170.0 335.6,170.0 335.8,170.1 335.8,170.2 336.3,171.3 336.4,171.6 336.6,171.7 336.8,171.9 337.0,171.9 338.1,172.0 347.3,172.1 379.3,172.1 384.0,172.0 385.1,171.9 385.8,171.8 386.3,171.6 386.6,171.3 386.7,171.1 386.9,170.5 387.0,169.6 387.2,168.0 387.3,166.2 387.3,165.7 387.5,162.7 387.6,159.5 387.8,156.9 387.9,156.0 387.9,156.0 388.1,157.4 388.2,160.2 388.4,163.5 388.5,166.3 388.7,168.5 388.8,169.9 389.0,170.7 389.1,171.1 389.3,171.4 389.4,171.5 389.9,171.8 390.6,171.9 391.8,172.0 393.6,172.1 405.7,172.0 408.0,172.0 409.3,171.8 409.9,171.6 410.2,171.3 410.4,171.1 410.5,170.6 410.7,169.8 410.8,168.4 411.0,166.1 411.1,163.1 411.3,158.4 411.4,156.0 411.6,153.9 411.6,153.8 411.7,154.4 411.9,157.0 412.0,160.7 412.2,164.2 412.3,166.9 412.5,168.9 412.6,170.1 412.8,170.8 412.9,171.2 413.1,171.4 413.2,171.5 413.5,171.7 414.1,171.9 415.8,172.0 419.4,172.1 446.6,172.1 447.7,172.0 448.4,172.0 449.0,171.8 450.1,171.4 450.4,171.4 450.8,171.4 452.2,171.9 453.2,172.0 458.4,172.0 460.0,171.9 461.0,171.8 461.6,171.6 461.9,171.4 462.1,171.1 462.2,170.8 462.3,170.6 462.4,170.2 462.5,169.7 462.7,168.9 462.8,168.3 462.9,167.5 463.1,165.5 463.2,164.7 463.3,164.2 463.4,163.8 463.5,163.5 463.5,163.4 463.6,163.4 463.7,163.5 463.7,163.7 463.8,164.1 464.1,165.9 464.2,166.4 464.3,166.7 464.4,166.9 464.4,167.0 464.5,167.1 464.6,166.9 464.7,166.6 464.8,166.3 464.9,165.7 464.9,165.4 465.2,163.5 465.3,162.6 465.4,162.3 465.4,162.1 465.5,162.0 465.5,162.0 465.6,162.1 465.6,162.2 465.7,162.4 465.8,163.0 465.8,163.4 465.9,164.2 466.2,166.5 466.3,167.8 466.4,168.6 466.5,169.2 466.7,170.0 466.8,170.5 466.9,170.8 467.0,171.0 467.3,171.3 467.6,171.4 467.9,171.4 468.1,171.3 468.3,171.1 468.5,170.7 468.6,170.2 468.8,169.6 468.9,168.7 469.2,166.9 469.3,166.4 469.4,166.0 469.5,165.9 469.5,165.9 469.6,165.9 469.7,166.1 469.8,166.4 469.9,167.0 470.2,168.9 470.3,169.7 470.5,170.4 470.6,170.7 470.7,171.0 470.9,171.4 471.1,171.6 471.4,171.8 471.9,171.9 473.0,172.0 474.7,172.0 482.3,172.1 499.0,172.1 501.4,172.0 502.7,171.9 503.0,171.9 503.3,171.8 503.5,171.6 503.6,171.4 503.8,171.2 503.9,170.8 504.1,170.3 504.2,169.8 504.5,168.5 504.7,168.0 504.8,167.7 504.9,167.7 505.0,167.7 505.1,168.1 505.3,168.6 505.6,169.8 505.7,170.4 505.9,170.8 506.0,171.2 506.2,171.5 506.3,171.6 506.6,171.8 507.2,172.0 508.4,172.0 514.2,172.1" fill="none" stroke="#3059a8" stroke-width="1.50" stroke-linejoin="round"/>
<path d="M281.3,219.0 300.4,219.0 304.0,218.9 304.5,218.9 304.8,218.7 305.1,218.4 305.5,217.7 305.7,217.5 305.8,217.5 305.8,217.5 306.0,217.7 306.4,218.4 306.7,218.7 306.9,218.8 307.2,218.9 307.9,219.0 318.1,219.0 322.6,218.9 323.1,218.8 323.4,218.6 323.5,218.4 323.7,218.2 324.0,217.6 324.1,217.4 324.2,217.4 324.3,217.4 324.4,217.6 324.7,218.1 325.0,218.5 325.2,218.7 325.5,218.8 326.2,218.8 327.1,218.6 327.7,218.4 328.2,218.2 328.5,217.8 328.6,217.6 328.8,217.2 328.9,216.5 329.1,215.3 329.1,215.1 329.2,212.8 329.2,212.5 329.3,210.7 329.4,208.2 329.4,207.8 329.5,201.0 329.5,200.3 329.7,191.4 329.8,180.5 330.0,174.3 330.0,173.8 330.1,173.8 330.1,175.6 330.2,178.6 330.3,183.6 330.3,184.7 330.4,193.9 330.5,198.2 330.6,203.1 330.6,206.3 330.7,209.6 330.8,211.6 330.9,213.6 330.9,214.7 331.0,215.7 331.1,216.2 331.2,216.8 331.2,217.0 331.4,217.5 331.6,217.9 331.9,218.2 332.3,218.4 332.8,218.6 333.9,218.7 334.3,218.7 334.6,218.6 334.8,218.4 334.9,218.2 335.1,217.9 335.4,217.1 335.5,216.9 335.6,216.9 335.8,217.0 335.8,217.1 336.3,218.2 336.4,218.5 336.6,218.6 336.8,218.8 337.0,218.8 338.1,218.9 347.3,219.0 379.3,219.0 384.0,218.9 385.1,218.8 385.8,218.7 386.3,218.6 386.6,218.3 386.7,218.1 386.9,217.7 387.0,216.9 387.2,215.6 387.3,213.7 387.5,210.9 387.6,208.0 387.8,205.6 387.9,204.6 388.1,205.6 388.2,208.1 388.4,211.0 388.5,213.6 388.7,215.6 388.8,216.9 389.0,217.7 389.1,218.1 389.3,218.3 389.4,218.5 389.9,218.7 390.6,218.8 391.8,218.9 393.6,219.0 405.8,219.0 408.0,218.9 409.3,218.7 410.0,218.5 410.1,218.4 410.3,218.2 410.4,217.9 410.6,217.4 410.7,216.5 410.9,214.9 411.0,212.6 411.2,209.4 411.3,206.0 411.5,203.1 411.6,201.9 411.8,203.1 411.9,206.0 412.1,209.5 412.2,212.6 412.3,214.1 412.4,214.9 412.5,216.5 412.7,217.4 412.8,217.9 413.0,218.2 413.1,218.4 413.4,218.6 414.2,218.8 415.8,218.9 419.3,219.0 446.8,219.0 447.8,218.9 448.6,218.8 449.0,218.7 450.1,218.3 450.4,218.3 450.8,218.3 452.2,218.8 453.3,218.9 458.5,218.9 460.0,218.8 461.1,218.7 461.6,218.5 461.9,218.3 462.1,218.0 462.3,217.6 462.4,217.3 462.5,216.7 462.6,216.4 462.7,215.5 462.9,214.5 463.2,212.2 463.3,211.5 463.3,211.2 463.4,210.8 463.5,210.7 463.6,210.7 463.6,210.7 463.7,211.0 463.8,211.2 463.9,211.7 464.1,212.8 464.2,213.3 464.3,213.7 464.4,213.9 464.5,214.0 464.5,213.9 464.6,213.7 464.7,213.5 464.8,213.0 464.8,212.6 464.9,211.9 465.1,210.2 465.2,209.5 465.3,209.1 465.4,208.7 465.4,208.5 465.5,208.4 465.6,208.5 465.7,208.9 465.7,209.2 465.8,210.0 465.9,210.4 466.2,213.3 466.3,214.7 466.5,215.8 466.6,216.6 466.8,217.3 466.9,217.5 467.0,217.9 467.2,218.1 467.5,218.3 467.8,218.3 468.1,218.2 468.3,218.0 468.4,217.7 468.6,217.2 468.7,216.5 468.9,215.7 469.2,213.8 469.3,213.2 469.3,213.0 469.4,212.7 469.5,212.6 469.5,212.6 469.6,212.7 469.7,213.0 469.8,213.3 469.9,213.8 470.2,215.8 470.3,216.4 470.4,216.9 470.5,217.3 470.6,217.8 470.8,218.2 471.1,218.5 471.4,218.7 471.8,218.8 472.9,218.9 474.4,218.9 481.3,219.0 498.8,219.0 501.3,218.9 502.7,218.8 503.0,218.8 503.3,218.7 503.6,218.4 503.7,218.1 503.9,217.7 504.0,217.3 504.2,216.7 504.5,215.4 504.6,214.9 504.8,214.6 504.9,214.5 504.9,214.5 505.1,214.8 505.2,215.3 505.5,216.6 505.7,217.2 505.8,217.7 506.0,218.0 506.1,218.3 506.3,218.5 506.6,218.7 507.2,218.9 508.3,218.9 514.2,219.0" fill="none" stroke="#d04a5a" stroke-width="1.50" stroke-linejoin="round"/>
<path d="M281.3,266.6 299.9,266.6 303.5,266.5 304.0,266.5 304.3,266.3 304.6,266.0 305.0,265.3 305.2,265.1 305.2,265.1 305.3,265.1 305.5,265.3 305.9,266.0 306.2,266.3 306.5,266.5 307.0,266.5 309.1,266.6 315.3,266.6 319.6,266.6 321.6,266.5 322.4,266.4 322.6,266.3 322.8,266.1 322.9,265.8 323.1,265.5 323.4,264.4 323.5,264.2 323.7,264.0 323.7,264.0 323.9,264.3 324.3,265.5 324.4,265.8 324.6,266.1 324.9,266.3 325.5,266.3 326.6,266.2 327.3,266.0 327.7,265.7 327.9,265.4 328.1,265.2 328.2,264.8 328.3,264.6 328.4,264.2 328.5,263.4 328.5,263.0 328.6,261.4 328.7,260.7 328.8,257.7 328.8,256.4 328.9,251.4 329.0,249.4 329.1,242.5 329.1,239.9 329.2,232.1 329.3,229.6 329.3,228.4 329.4,223.5 329.4,221.8 329.5,221.0 329.5,221.2 329.6,222.3 329.7,226.7 329.7,229.8 329.8,236.7 329.9,240.2 330.0,246.7 330.0,249.6 330.1,254.5 330.2,256.5 330.3,259.6 330.3,260.8 330.4,262.5 330.5,263.1 330.6,263.9 330.6,264.2 330.7,264.7 330.8,264.8 330.9,265.2 331.2,265.6 331.5,265.8 331.8,266.0 332.3,266.2 332.8,266.3 333.4,266.3 333.8,266.3 334.0,266.2 334.2,266.0 334.4,265.7 334.5,265.3 334.8,264.4 334.9,264.2 335.0,264.1 335.1,264.0 335.2,264.1 335.3,264.3 335.7,265.6 335.9,265.9 336.0,266.1 336.2,266.3 336.5,266.4 337.5,266.5 346.3,266.6 379.3,266.6 383.5,266.5 384.6,266.4 385.3,266.2 385.8,266.0 385.9,265.9 386.1,265.7 386.2,265.3 386.3,265.0 386.4,264.6 386.5,263.4 386.7,261.4 386.8,258.5 387.0,254.9 387.1,251.3 387.3,248.6 387.3,248.4 387.4,248.0 387.4,248.2 387.6,250.2 387.7,253.7 387.9,257.4 388.0,260.6 388.2,262.8 388.3,264.0 388.3,264.3 388.5,265.1 388.6,265.6 388.8,265.8 388.9,266.0 389.3,266.2 390.1,266.4 391.6,266.5 394.3,266.6 406.0,266.5 407.5,266.5 408.5,266.4 409.1,266.2 409.6,266.0 409.7,265.8 409.9,265.5 410.0,265.0 410.2,264.1 410.3,262.7 410.3,262.5 410.5,260.1 410.6,256.9 410.8,253.2 410.9,250.0 411.1,248.5 411.1,248.5 411.2,249.5 411.3,251.0 411.4,252.5 411.5,256.1 411.7,259.5 411.8,262.1 412.0,263.8 412.1,264.8 412.3,265.4 412.4,265.8 412.6,265.9 412.9,266.1 413.6,266.4 415.4,266.5 419.0,266.6 446.3,266.6 447.3,266.5 448.1,266.4 448.5,266.3 449.6,265.9 449.9,265.9 450.3,265.9 451.7,266.4 452.7,266.5 457.7,266.5 459.3,266.4 460.4,266.3 461.0,266.2 461.3,265.9 461.4,265.8 461.6,265.6 461.7,265.2 461.8,265.0 461.9,264.5 462.1,263.7 462.2,262.9 462.3,262.1 462.6,259.1 462.8,258.3 462.8,257.9 462.9,257.5 463.0,257.3 463.0,257.3 463.1,257.4 463.2,257.7 463.3,258.2 463.6,260.0 463.7,260.5 463.7,260.9 463.8,261.3 463.9,261.5 464.0,261.6 464.1,261.5 464.2,261.3 464.3,261.0 464.3,260.7 464.4,260.2 464.6,258.7 464.7,258.2 464.8,257.8 464.9,257.5 464.9,257.4 465.0,257.3 465.1,257.4 465.2,257.7 465.2,258.1 465.3,258.6 465.4,259.2 465.6,261.5 465.8,262.7 465.9,263.4 466.0,263.8 466.1,264.6 466.3,265.1 466.4,265.4 466.5,265.6 466.7,265.8 467.0,266.0 467.3,266.0 467.6,265.9 467.8,265.7 467.9,265.4 468.1,265.0 468.2,264.4 468.4,263.7 468.7,262.1 468.8,261.5 468.9,261.2 469.0,261.1 469.1,261.1 469.1,261.2 469.2,261.6 469.4,262.2 469.7,263.8 469.8,264.6 470.0,265.1 470.1,265.7 470.3,266.0 470.6,266.2 470.9,266.3 471.4,266.4 472.4,266.5 474.2,266.5 481.3,266.6 498.0,266.6 500.7,266.5 502.1,266.5 502.5,266.4 502.8,266.3 503.0,266.1 503.1,265.9 503.3,265.7 503.4,265.3 503.6,264.8 504.0,263.1 504.2,262.6 504.3,262.3 504.4,262.3 504.5,262.4 504.6,262.7 504.8,263.2 505.1,264.4 505.2,265.0 505.4,265.4 505.5,265.8 505.7,266.0 505.8,266.2 506.1,266.4 506.7,266.5 507.9,266.5 514.2,266.6" fill="none" stroke="#4c4c4c" stroke-width="1.50" stroke-linejoin="round"/>
<rect x="23.40" y="3.30" width="231.50" height="267.60" fill="none" stroke="#000" stroke-width="1.3"/>
<path d="M23.40,270.90v3.80 M37.87,270.90v2.00 M52.34,270.90v3.80 M66.81,270.90v2.00 M81.28,270.90v3.80 M95.74,270.90v2.00 M110.21,270.90v3.80 M124.68,270.90v2.00 M139.15,270.90v3.80 M153.62,270.90v2.00 M168.09,270.90v3.80 M182.56,270.90v2.00 M197.03,270.90v3.80 M211.49,270.90v2.00 M225.96,270.90v3.80 M240.43,270.90v2.00 M254.90,270.90v3.80" stroke="#000" stroke-width="1.1"/>
<rect x="281.30" y="3.70" width="232.90" height="269.50" fill="none" stroke="#000" stroke-width="1.3"/>
<path d="M281.30,273.20v3.80 M295.86,273.20v2.00 M310.41,273.20v3.80 M324.97,273.20v2.00 M339.53,273.20v3.80 M354.08,273.20v2.00 M368.64,273.20v3.80 M383.19,273.20v2.00 M397.75,273.20v3.80 M412.31,273.20v2.00 M426.86,273.20v3.80 M441.42,273.20v2.00 M455.98,273.20v3.80 M470.53,273.20v2.00 M485.09,273.20v3.80 M499.64,273.20v2.00 M514.20,273.20v3.80" stroke="#000" stroke-width="1.1"/>
<text x="23.40" y="284.70" style="font-family:'Liberation Serif',serif;font-weight:bold;font-size:8.30px" text-anchor="middle" fill="#000" stroke="#000" stroke-width="0.22" >20</text>
<text x="52.34" y="284.70" style="font-family:'Liberation Serif',serif;font-weight:bold;font-size:8.30px" text-anchor="middle" fill="#000" stroke="#000" stroke-width="0.22" >25</text>
<text x="81.28" y="284.70" style="font-family:'Liberation Serif',serif;font-weight:bold;font-size:8.30px" text-anchor="middle" fill="#000" stroke="#000" stroke-width="0.22" >30</text>
<text x="110.21" y="284.70" style="font-family:'Liberation Serif',serif;font-weight:bold;font-size:8.30px" text-anchor="middle" fill="#000" stroke="#000" stroke-width="0.22" >35</text>
<text x="139.15" y="284.70" style="font-family:'Liberation Serif',serif;font-weight:bold;font-size:8.30px" text-anchor="middle" fill="#000" stroke="#000" stroke-width="0.22" >40</text>
<text x="168.09" y="284.70" style="font-family:'Liberation Serif',serif;font-weight:bold;font-size:8.30px" text-anchor="middle" fill="#000" stroke="#000" stroke-width="0.22" >45</text>
<text x="197.03" y="284.70" style="font-family:'Liberation Serif',serif;font-weight:bold;font-size:8.30px" text-anchor="middle" fill="#000" stroke="#000" stroke-width="0.22" >50</text>
<text x="225.96" y="284.70" style="font-family:'Liberation Serif',serif;font-weight:bold;font-size:8.30px" text-anchor="middle" fill="#000" stroke="#000" stroke-width="0.22" >55</text>
<text x="254.90" y="284.70" style="font-family:'Liberation Serif',serif;font-weight:bold;font-size:8.30px" text-anchor="middle" fill="#000" stroke="#000" stroke-width="0.22" >60</text>
<text x="281.30" y="286.60" style="font-family:'Liberation Serif',serif;font-weight:bold;font-size:8.30px" text-anchor="middle" fill="#000" stroke="#000" stroke-width="0.22" >20</text>
<text x="310.41" y="286.60" style="font-family:'Liberation Serif',serif;font-weight:bold;font-size:8.30px" text-anchor="middle" fill="#000" stroke="#000" stroke-width="0.22" >25</text>
<text x="339.53" y="286.60" style="font-family:'Liberation Serif',serif;font-weight:bold;font-size:8.30px" text-anchor="middle" fill="#000" stroke="#000" stroke-width="0.22" >30</text>
<text x="368.64" y="286.60" style="font-family:'Liberation Serif',serif;font-weight:bold;font-size:8.30px" text-anchor="middle" fill="#000" stroke="#000" stroke-width="0.22" >35</text>
<text x="397.75" y="286.60" style="font-family:'Liberation Serif',serif;font-weight:bold;font-size:8.30px" text-anchor="middle" fill="#000" stroke="#000" stroke-width="0.22" >40</text>
<text x="426.86" y="286.60" style="font-family:'Liberation Serif',serif;font-weight:bold;font-size:8.30px" text-anchor="middle" fill="#000" stroke="#000" stroke-width="0.22" >45</text>
<text x="455.98" y="286.60" style="font-family:'Liberation Serif',serif;font-weight:bold;font-size:8.30px" text-anchor="middle" fill="#000" stroke="#000" stroke-width="0.22" >50</text>
<text x="485.09" y="286.60" style="font-family:'Liberation Serif',serif;font-weight:bold;font-size:8.30px" text-anchor="middle" fill="#000" stroke="#000" stroke-width="0.22" >55</text>
<text x="514.20" y="286.60" style="font-family:'Liberation Serif',serif;font-weight:bold;font-size:8.30px" text-anchor="middle" fill="#000" stroke="#000" stroke-width="0.22" >60</text>
<text x="139.20" y="296.60" style="font-family:'Liberation Serif',serif;font-weight:bold;font-size:10.40px" text-anchor="middle" fill="#000" stroke="#000" stroke-width="0.22" >2θ (degree)</text>
<text x="398.00" y="299.60" style="font-family:'Liberation Serif',serif;font-weight:bold;font-size:10.40px" text-anchor="middle" fill="#000" stroke="#000" stroke-width="0.22" >2θ (degree)</text>
<text transform="translate(13.1,171.7) rotate(-90)" x="0" y="0" style="font-family:'Liberation Serif',serif;font-weight:bold;font-size:10.2px" textLength="69.8" lengthAdjust="spacingAndGlyphs">Intensity (a.u.)</text>
<text transform="translate(271.1,172.3) rotate(-90)" x="0" y="0" style="font-family:'Liberation Serif',serif;font-weight:bold;font-size:10.2px" textLength="69" lengthAdjust="spacingAndGlyphs">Intensity (a.u.)</text>
<text x="0.70" y="10.00" style="font-family:'Liberation Serif',serif;font-weight:bold;font-size:12.60px" text-anchor="start" fill="#000" stroke="#000" stroke-width="0.22" textLength="14.6" lengthAdjust="spacingAndGlyphs">(a)</text>
<text x="261.30" y="11.70" style="font-family:'Liberation Serif',serif;font-weight:bold;font-size:12.30px" text-anchor="start" fill="#000" stroke="#000" stroke-width="0.22" textLength="15.9" lengthAdjust="spacingAndGlyphs">(b)</text>
<text x="131.20" y="16.60" style="font-family:'Liberation Serif',serif;font-weight:bold;font-size:9.80px" text-anchor="start" fill="#000" stroke="#000" stroke-width="0.22" >1 h</text>
<text x="381.80" y="17.20" style="font-family:'Liberation Serif',serif;font-weight:bold;font-size:9.40px" text-anchor="start" fill="#000" stroke="#000" stroke-width="0.22" >300 °C</text>
<path d="M171.00,11.20 l2.1,3.1 l-2.1,3.1 l-2.1,-3.1z" fill="#000"/>
<text x="179.40" y="17.90" style="font-family:'Liberation Serif',serif;font-weight:bold;font-style:italic;font-size:9.50px" text-anchor="start" fill="#000" stroke="#000" stroke-width="0.22" >MnBi</text>
<circle cx="209.40" cy="15.30" r="1.4" fill="#000"/>
<text x="212.40" y="17.90" style="font-family:'Liberation Serif',serif;font-weight:bold;font-style:italic;font-size:9.50px" text-anchor="start" fill="#000" stroke="#000" stroke-width="0.22" >Bi</text>
<rect x="229.00" y="13.90" width="2.8" height="2.8" fill="#000"/>
<text x="232.30" y="17.90" style="font-family:'Liberation Serif',serif;font-weight:bold;font-style:italic;font-size:9.50px" text-anchor="start" fill="#000" stroke="#000" stroke-width="0.22" >Mn</text>
<path d="M429.70,11.40 l2.1,3.1 l-2.1,3.1 l-2.1,-3.1z" fill="#000"/>
<text x="436.60" y="18.10" style="font-family:'Liberation Serif',serif;font-weight:bold;font-style:italic;font-size:9.50px" text-anchor="start" fill="#000" stroke="#000" stroke-width="0.22" >MnBi</text>
<circle cx="467.90" cy="15.50" r="1.4" fill="#000"/>
<text x="471.50" y="18.10" style="font-family:'Liberation Serif',serif;font-weight:bold;font-style:italic;font-size:9.50px" text-anchor="start" fill="#000" stroke="#000" stroke-width="0.22" >Bi</text>
<rect x="488.20" y="14.10" width="2.8" height="2.8" fill="#000"/>
<text x="492.40" y="18.10" style="font-family:'Liberation Serif',serif;font-weight:bold;font-style:italic;font-size:9.50px" text-anchor="start" fill="#000" stroke="#000" stroke-width="0.22" >Mn</text>
<text x="219.20" y="50.00" style="font-family:'Liberation Serif',serif;font-weight:bold;font-size:8.70px" text-anchor="start" fill="#000" stroke="#000" stroke-width="0.22" >320 °C</text>
<text x="219.20" y="89.40" style="font-family:'Liberation Serif',serif;font-weight:bold;font-size:8.70px" text-anchor="start" fill="#000" stroke="#000" stroke-width="0.22" >310 °C</text>
<text x="219.20" y="127.70" style="font-family:'Liberation Serif',serif;font-weight:bold;font-size:8.70px" text-anchor="start" fill="#000" stroke="#000" stroke-width="0.22" >300 °C</text>
<text x="219.20" y="168.30" style="font-family:'Liberation Serif',serif;font-weight:bold;font-size:8.70px" text-anchor="start" fill="#000" stroke="#000" stroke-width="0.22" >290 °C</text>
<text x="219.20" y="208.20" style="font-family:'Liberation Serif',serif;font-weight:bold;font-size:8.70px" text-anchor="start" fill="#000" stroke="#000" stroke-width="0.22" >280 °C</text>
<text x="217.00" y="247.00" style="font-family:'Liberation Serif',serif;font-weight:bold;font-size:8.70px" text-anchor="start" fill="#000" stroke="#000" stroke-width="0.22" >as-spun</text>
<text x="151.50" y="251.90" style="font-family:'Liberation Serif',serif;font-weight:bold;font-style:italic;font-size:9.40px" text-anchor="start" fill="#000" stroke="#000" stroke-width="0.22" >Mn</text>
<text x="487.60" y="55.90" style="font-family:'Liberation Serif',serif;font-weight:bold;font-size:9.80px" text-anchor="start" fill="#000" stroke="#000" stroke-width="0.22" >9 h</text>
<text x="487.60" y="104.00" style="font-family:'Liberation Serif',serif;font-weight:bold;font-size:9.80px" text-anchor="start" fill="#000" stroke="#000" stroke-width="0.22" >6 h</text>
<text x="487.60" y="152.30" style="font-family:'Liberation Serif',serif;font-weight:bold;font-size:9.80px" text-anchor="start" fill="#000" stroke="#000" stroke-width="0.22" >3 h</text>
<text x="487.90" y="200.60" style="font-family:'Liberation Serif',serif;font-weight:bold;font-size:9.80px" text-anchor="start" fill="#000" stroke="#000" stroke-width="0.22" >1 h</text>
<text x="483.60" y="248.50" style="font-family:'Liberation Serif',serif;font-weight:bold;font-size:9.80px" text-anchor="start" fill="#000" stroke="#000" stroke-width="0.22" >0.5 h</text>
<text x="82.80" y="62.80" style="font-family:'Liberation Sans',sans-serif;font-weight:bold;font-size:9.4px" fill="#2a4770" stroke="#2a4770" stroke-width="0.25" textLength="17.9" lengthAdjust="spacingAndGlyphs">86.8</text>
<text x="105.00" y="62.80" style="font-family:'Liberation Sans',sans-serif;font-weight:bold;font-size:9.4px" fill="#2a4770" stroke="#2a4770" stroke-width="0.25" textLength="11.6" lengthAdjust="spacingAndGlyphs"><tspan style="font-style:italic">wt.</tspan></text>
<text x="117.00" y="62.80" style="font-family:'DejaVu Sans',sans-serif;font-weight:bold;font-size:8.8px" fill="#2a4770" stroke="#2a4770" stroke-width="0.25" textLength="9.0" lengthAdjust="spacingAndGlyphs">%</text>
<text x="82.80" y="102.60" style="font-family:'Liberation Sans',sans-serif;font-weight:bold;font-size:9.4px" fill="#2a4770" stroke="#2a4770" stroke-width="0.25" textLength="17.9" lengthAdjust="spacingAndGlyphs">90.2</text>
<text x="105.00" y="102.60" style="font-family:'Liberation Sans',sans-serif;font-weight:bold;font-size:9.4px" fill="#2a4770" stroke="#2a4770" stroke-width="0.25" textLength="11.6" lengthAdjust="spacingAndGlyphs"><tspan style="font-style:italic">wt.</tspan></text>
<text x="117.00" y="102.60" style="font-family:'DejaVu Sans',sans-serif;font-weight:bold;font-size:8.8px" fill="#2a4770" stroke="#2a4770" stroke-width="0.25" textLength="9.0" lengthAdjust="spacingAndGlyphs">%</text>
<text x="82.80" y="142.60" style="font-family:'Liberation Sans',sans-serif;font-weight:bold;font-size:9.4px" fill="#b41f2c" stroke="#b41f2c" stroke-width="0.25" textLength="17.9" lengthAdjust="spacingAndGlyphs">92.4</text>
<text x="105.00" y="142.60" style="font-family:'Liberation Sans',sans-serif;font-weight:bold;font-size:9.4px" fill="#b41f2c" stroke="#b41f2c" stroke-width="0.25" textLength="11.6" lengthAdjust="spacingAndGlyphs"><tspan style="font-style:italic">wt.</tspan></text>
<text x="117.00" y="142.60" style="font-family:'DejaVu Sans',sans-serif;font-weight:bold;font-size:8.8px" fill="#b41f2c" stroke="#b41f2c" stroke-width="0.25" textLength="9.0" lengthAdjust="spacingAndGlyphs">%</text>
<text x="82.80" y="180.90" style="font-family:'Liberation Sans',sans-serif;font-weight:bold;font-size:9.4px" fill="#2a4770" stroke="#2a4770" stroke-width="0.25" textLength="17.9" lengthAdjust="spacingAndGlyphs">89.8</text>
<text x="105.00" y="180.90" style="font-family:'Liberation Sans',sans-serif;font-weight:bold;font-size:9.4px" fill="#2a4770" stroke="#2a4770" stroke-width="0.25" textLength="11.6" lengthAdjust="spacingAndGlyphs"><tspan style="font-style:italic">wt.</tspan></text>
<text x="117.00" y="180.90" style="font-family:'DejaVu Sans',sans-serif;font-weight:bold;font-size:8.8px" fill="#2a4770" stroke="#2a4770" stroke-width="0.25" textLength="9.0" lengthAdjust="spacingAndGlyphs">%</text>
<text x="82.80" y="219.90" style="font-family:'Liberation Sans',sans-serif;font-weight:bold;font-size:9.4px" fill="#2a4770" stroke="#2a4770" stroke-width="0.25" textLength="17.9" lengthAdjust="spacingAndGlyphs">84.3</text>
<text x="105.00" y="219.90" style="font-family:'Liberation Sans',sans-serif;font-weight:bold;font-size:9.4px" fill="#2a4770" stroke="#2a4770" stroke-width="0.25" textLength="11.6" lengthAdjust="spacingAndGlyphs"><tspan style="font-style:italic">wt.</tspan></text>
<text x="117.00" y="219.90" style="font-family:'DejaVu Sans',sans-serif;font-weight:bold;font-size:8.8px" fill="#2a4770" stroke="#2a4770" stroke-width="0.25" textLength="9.0" lengthAdjust="spacingAndGlyphs">%</text>
<text x="341.30" y="74.90" style="font-family:'Liberation Sans',sans-serif;font-weight:bold;font-size:9.4px" fill="#2a4770" stroke="#2a4770" stroke-width="0.25" textLength="17.9" lengthAdjust="spacingAndGlyphs">96.0</text>
<text x="363.50" y="74.90" style="font-family:'Liberation Sans',sans-serif;font-weight:bold;font-size:9.4px" fill="#2a4770" stroke="#2a4770" stroke-width="0.25" textLength="11.6" lengthAdjust="spacingAndGlyphs"><tspan style="font-style:italic">wt.</tspan></text>
<text x="375.50" y="74.90" style="font-family:'DejaVu Sans',sans-serif;font-weight:bold;font-size:8.8px" fill="#2a4770" stroke="#2a4770" stroke-width="0.25" textLength="9.0" lengthAdjust="spacingAndGlyphs">%</text>
<text x="341.30" y="121.80" style="font-family:'Liberation Sans',sans-serif;font-weight:bold;font-size:9.4px" fill="#2a4770" stroke="#2a4770" stroke-width="0.25" textLength="17.9" lengthAdjust="spacingAndGlyphs">95.7</text>
<text x="363.50" y="121.80" style="font-family:'Liberation Sans',sans-serif;font-weight:bold;font-size:9.4px" fill="#2a4770" stroke="#2a4770" stroke-width="0.25" textLength="11.6" lengthAdjust="spacingAndGlyphs"><tspan style="font-style:italic">wt.</tspan></text>
<text x="375.50" y="121.80" style="font-family:'DejaVu Sans',sans-serif;font-weight:bold;font-size:8.8px" fill="#2a4770" stroke="#2a4770" stroke-width="0.25" textLength="9.0" lengthAdjust="spacingAndGlyphs">%</text>
<text x="341.30" y="167.50" style="font-family:'Liberation Sans',sans-serif;font-weight:bold;font-size:9.4px" fill="#b41f2c" stroke="#b41f2c" stroke-width="0.25" textLength="17.9" lengthAdjust="spacingAndGlyphs">96.5</text>
<text x="363.50" y="167.50" style="font-family:'Liberation Sans',sans-serif;font-weight:bold;font-size:9.4px" fill="#b41f2c" stroke="#b41f2c" stroke-width="0.25" textLength="11.6" lengthAdjust="spacingAndGlyphs"><tspan style="font-style:italic">wt.</tspan></text>
<text x="375.50" y="167.50" style="font-family:'DejaVu Sans',sans-serif;font-weight:bold;font-size:8.8px" fill="#b41f2c" stroke="#b41f2c" stroke-width="0.25" textLength="9.0" lengthAdjust="spacingAndGlyphs">%</text>
<text x="341.30" y="215.50" style="font-family:'Liberation Sans',sans-serif;font-weight:bold;font-size:9.4px" fill="#2a4770" stroke="#2a4770" stroke-width="0.25" textLength="17.9" lengthAdjust="spacingAndGlyphs">92.4</text>
<text x="363.50" y="215.50" style="font-family:'Liberation Sans',sans-serif;font-weight:bold;font-size:9.4px" fill="#2a4770" stroke="#2a4770" stroke-width="0.25" textLength="11.6" lengthAdjust="spacingAndGlyphs"><tspan style="font-style:italic">wt.</tspan></text>
<text x="375.50" y="215.50" style="font-family:'DejaVu Sans',sans-serif;font-weight:bold;font-size:8.8px" fill="#2a4770" stroke="#2a4770" stroke-width="0.25" textLength="9.0" lengthAdjust="spacingAndGlyphs">%</text>
<text x="341.30" y="263.30" style="font-family:'Liberation Sans',sans-serif;font-weight:bold;font-size:9.4px" fill="#2a4770" stroke="#2a4770" stroke-width="0.25" textLength="17.9" lengthAdjust="spacingAndGlyphs">90.5</text>
<text x="363.50" y="263.30" style="font-family:'Liberation Sans',sans-serif;font-weight:bold;font-size:9.4px" fill="#2a4770" stroke="#2a4770" stroke-width="0.25" textLength="11.6" lengthAdjust="spacingAndGlyphs"><tspan style="font-style:italic">wt.</tspan></text>
<text x="375.50" y="263.30" style="font-family:'DejaVu Sans',sans-serif;font-weight:bold;font-size:8.8px" fill="#2a4770" stroke="#2a4770" stroke-width="0.25" textLength="9.0" lengthAdjust="spacingAndGlyphs">%</text>
<path d="M47.71,58.40 l2.00,2.40 l-2.00,2.40 l-2.00,-2.40 z" fill="#000"/>
<path d="M66.05,58.10 l2.00,2.40 l-2.00,2.40 l-2.00,-2.40 z" fill="#000"/>
<path d="M71.49,22.10 l2.00,2.40 l-2.00,2.40 l-2.00,-2.40 z" fill="#000"/>
<path d="M77.40,57.00 l2.00,2.40 l-2.00,2.40 l-2.00,-2.40 z" fill="#000"/>
<path d="M129.37,43.40 l2.00,2.40 l-2.00,2.40 l-2.00,-2.40 z" fill="#000"/>
<path d="M152.92,45.00 l2.00,2.40 l-2.00,2.40 l-2.00,-2.40 z" fill="#000"/>
<path d="M203.68,51.10 l2.00,2.40 l-2.00,2.40 l-2.00,-2.40 z" fill="#000"/>
<path d="M206.29,50.80 l2.00,2.40 l-2.00,2.40 l-2.00,-2.40 z" fill="#000"/>
<path d="M210.51,53.60 l2.00,2.40 l-2.00,2.40 l-2.00,-2.40 z" fill="#000"/>
<path d="M245.64,55.20 l2.00,2.40 l-2.00,2.40 l-2.00,-2.40 z" fill="#000"/>
<path d="M305.75,67.90 l2.00,2.40 l-2.00,2.40 l-2.00,-2.40 z" fill="#000"/>
<path d="M324.21,68.80 l2.00,2.40 l-2.00,2.40 l-2.00,-2.40 z" fill="#000"/>
<path d="M329.68,24.10 l2.00,2.40 l-2.00,2.40 l-2.00,-2.40 z" fill="#000"/>
<path d="M335.62,65.40 l2.00,2.40 l-2.00,2.40 l-2.00,-2.40 z" fill="#000"/>
<path d="M387.91,52.90 l2.00,2.40 l-2.00,2.40 l-2.00,-2.40 z" fill="#000"/>
<path d="M411.61,54.20 l2.00,2.40 l-2.00,2.40 l-2.00,-2.40 z" fill="#000"/>
<path d="M462.67,61.40 l2.00,2.40 l-2.00,2.40 l-2.00,-2.40 z" fill="#000"/>
<path d="M465.29,61.00 l2.00,2.40 l-2.00,2.40 l-2.00,-2.40 z" fill="#000"/>
<path d="M469.54,64.10 l2.00,2.40 l-2.00,2.40 l-2.00,-2.40 z" fill="#000"/>
<path d="M504.88,65.60 l2.00,2.40 l-2.00,2.40 l-2.00,-2.40 z" fill="#000"/>
<circle cx="39.32" cy="260.00" r="1.65" fill="#000"/>
<circle cx="66.46" cy="225.40" r="1.65" fill="#000"/>
<circle cx="129.37" cy="246.40" r="1.65" fill="#000"/>
<circle cx="138.28" cy="241.00" r="1.65" fill="#000"/>
<circle cx="166.93" cy="258.00" r="1.65" fill="#000"/>
<circle cx="175.61" cy="255.40" r="1.65" fill="#000"/>
<circle cx="191.24" cy="253.50" r="1.65" fill="#000"/>
<circle cx="233.37" cy="256.70" r="1.65" fill="#000"/>
<path d="M72.88,253.00 l2.00,2.40 l-2.00,2.40 l-2.00,-2.40 z" fill="#000"/>
<rect x="156.17" y="255.80" width="3" height="3" fill="#000"/>
</svg>
</body></html>
